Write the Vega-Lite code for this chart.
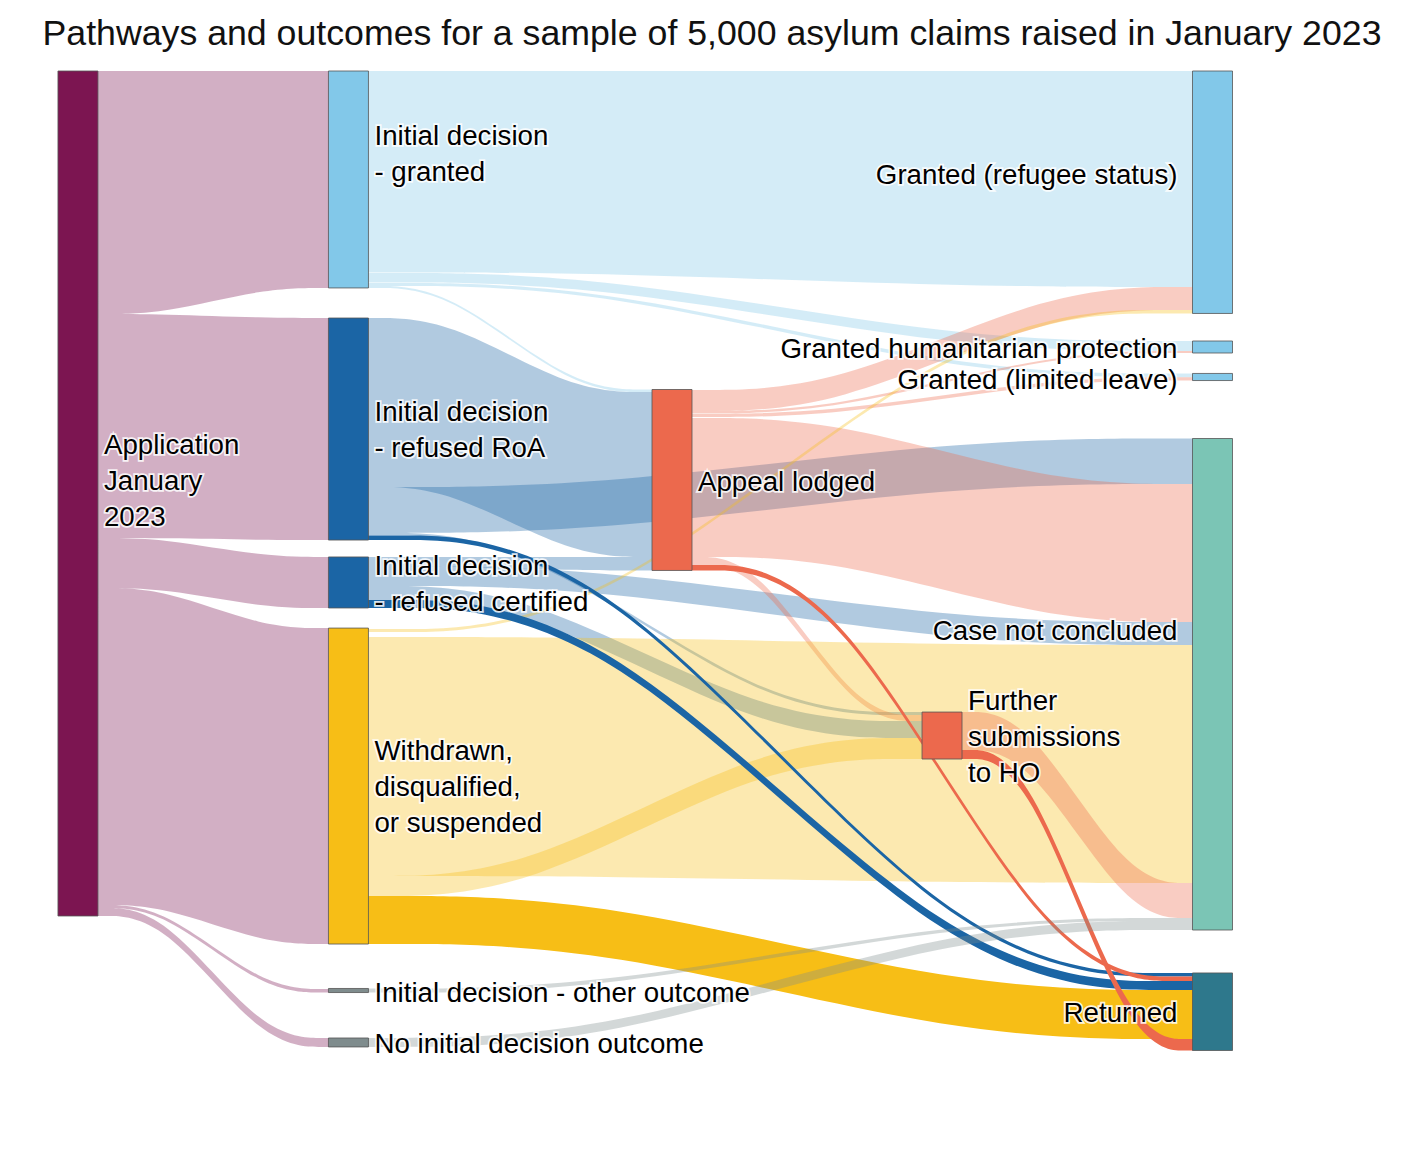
{
  "$schema": "https://vega.github.io/schema/vega-lite/v6.json",
  "width": 1174,
  "height": 980,
  "autosize": {"type": "none"},
  "padding": {"left": 58, "top": 71, "right": 176, "bottom": 108},
  "background": "white",
  "title": {
    "text": "Pathways and outcomes for a sample of 5,000 asylum claims raised in January 2023",
    "fontSize": 35.7,
    "font": "Liberation Sans",
    "fontWeight": "normal",
    "color": "#111111",
    "anchor": "middle",
    "dx": 67,
    "offset": 18
  },
  "config": {"view": {"stroke": null}, "font": "Liberation Sans"},
  "datasets": {
    "spans": [
      {"span": "A", "x": [0.0341, 0.0892, 0.1757, 0.2308]},
      {"span": "B", "x": [0.2641, 0.4609, 0.7700, 0.9668]},
      {"span": "C", "x": [0.2641, 0.3318, 0.4383, 0.5060]},
      {"span": "D", "x": [0.2641, 0.3962, 0.6038, 0.7359]},
      {"span": "E", "x": [0.5400, 0.6595, 0.8473, 0.9668]},
      {"span": "F", "x": [0.5400, 0.5949, 0.6810, 0.7359]},
      {"span": "G", "x": [0.7700, 0.8251, 0.9117, 0.9668]}
    ],
    "links": [
      {"id": 1, "s": "APP", "t": "IG", "span": "A", "top": [0, 0, 0, 0], "bot": [1438, 1438, 1284, 1284]},
      {"id": 2, "s": "APP", "t": "IR", "span": "A", "top": [1438, 1438, 1462, 1462], "bot": [2764, 2764, 2776, 2776]},
      {"id": 3, "s": "APP", "t": "IC", "span": "A", "top": [2764, 2764, 2876, 2876], "bot": [3060, 3060, 3178, 3178]},
      {"id": 4, "s": "APP", "t": "W", "span": "A", "top": [3060, 3060, 3297, 3297], "bot": [4936, 4936, 5167, 5167]},
      {"id": 5, "s": "APP", "t": "IO", "span": "A", "top": [4936, 4936, 5433, 5433], "bot": [4954, 4954, 5454, 5454]},
      {"id": 6, "s": "APP", "t": "NI", "span": "A", "top": [4954, 4954, 5723, 5723], "bot": [5001, 5001, 5776, 5776]},
      {"id": 7, "s": "IG", "t": "GR", "span": "B", "top": [0, 0, 0, 0], "bot": [1192, 1192, 1278, 1278]},
      {"id": 8, "s": "IG", "t": "HP", "span": "B", "top": [1196, 1196, 1598, 1598], "bot": [1252, 1252, 1657, 1657]},
      {"id": 9, "s": "IG", "t": "GL", "span": "B", "top": [1254, 1254, 1790, 1790], "bot": [1272, 1272, 1812, 1812]},
      {"id": 10, "s": "IG", "t": "AP", "span": "C", "top": [1273, 1273, 1885, 1885], "bot": [1284, 1284, 1900, 1900]},
      {"id": 11, "s": "IR", "t": "AP", "span": "C", "top": [1462, 1462, 1900, 1900], "bot": [2462, 2462, 2876, 2876]},
      {"id": 12, "s": "IR", "t": "CN", "span": "B", "top": [2462, 2462, 2175, 2175], "bot": [2734, 2734, 2444, 2444]},
      {"id": 13, "s": "IR", "t": "FS", "span": "D", "top": [2734, 2734, 3794, 3794], "bot": [2749, 2749, 3812, 3812]},
      {"id": 14, "s": "IR", "t": "RT", "span": "B", "top": [2749, 2749, 5338, 5338], "bot": [2776, 2776, 5359, 5359]},
      {"id": 15, "s": "IC", "t": "AP", "span": "C", "top": [2876, 2876, 2876, 2876], "bot": [2930, 2930, 2956, 2956]},
      {"id": 16, "s": "IC", "t": "CN", "span": "B", "top": [2930, 2930, 3261, 3261], "bot": [3048, 3048, 3397, 3397]},
      {"id": 17, "s": "IC", "t": "FS", "span": "D", "top": [3048, 3048, 3847, 3847], "bot": [3131, 3131, 3948, 3948]},
      {"id": 18, "s": "IC", "t": "RT", "span": "B", "top": [3131, 3131, 5386, 5386], "bot": [3178, 3178, 5439, 5439]},
      {"id": 19, "s": "AP", "t": "GR", "span": "E", "top": [1888, 1888, 1278, 1278], "bot": [2012, 2012, 1415, 1415]},
      {"id": 20, "s": "AP", "t": "HP", "span": "E", "top": [2012, 2012, 1657, 1657], "bot": [2026, 2026, 1669, 1669]},
      {"id": 21, "s": "AP", "t": "GL", "span": "E", "top": [2028, 2028, 1812, 1812], "bot": [2048, 2048, 1832, 1832]},
      {"id": 22, "s": "AP", "t": "CN", "span": "E", "top": [2054, 2054, 2444, 2444], "bot": [2876, 2876, 3261, 3261]},
      {"id": 23, "s": "AP", "t": "FS", "span": "F", "top": [2876, 2876, 3812, 3812], "bot": [2924, 2924, 3847, 3847]},
      {"id": 24, "s": "AP", "t": "RT", "span": "E", "top": [2924, 2924, 5359, 5359], "bot": [2956, 2956, 5386, 5386]},
      {"id": 25, "s": "W", "t": "GR", "span": "B", "top": [3303, 3303, 1415, 1415], "bot": [3320, 3320, 1435, 1435]},
      {"id": 26, "s": "W", "t": "CN", "span": "B", "top": [3350, 3350, 3397, 3397], "bot": [4764, 4764, 4806, 4806]},
      {"id": 27, "s": "W", "t": "FS", "span": "D", "top": [4764, 4764, 3948, 3948], "bot": [4883, 4883, 4072, 4072]},
      {"id": 28, "s": "W", "t": "RT", "span": "B", "top": [4883, 4883, 5439, 5439], "bot": [5167, 5167, 5729, 5729]},
      {"id": 29, "s": "FS", "t": "CN", "span": "G", "top": [3794, 3794, 4806, 4806], "bot": [4019, 4019, 5013, 5013]},
      {"id": 30, "s": "FS", "t": "RT", "span": "G", "top": [4019, 4019, 5729, 5729], "bot": [4072, 4072, 5797, 5797]},
      {"id": 31, "s": "IO", "t": "CN", "span": "B", "top": [5430, 5430, 5013, 5013], "bot": [5454, 5454, 5031, 5031]},
      {"id": 32, "s": "NI", "t": "CN", "span": "B", "top": [5723, 5723, 5031, 5031], "bot": [5776, 5776, 5084, 5084]}
    ],
    "nodes": [
      {"id": "APP", "x": 0.0170, "y0": 0, "y1": 5001, "label": "Application\nJanuary\n2023", "ly": 2220, "side": "R"},
      {"id": "IG", "x": 0.2474, "y0": 0, "y1": 1284, "label": "Initial decision\n- granted", "ly": 391, "side": "R"},
      {"id": "IR", "x": 0.2474, "y0": 1462, "y1": 2776, "label": "Initial decision\n- refused RoA", "ly": 2024, "side": "R"},
      {"id": "IC", "x": 0.2474, "y0": 2876, "y1": 3178, "label": "Initial decision\n- refused certified", "ly": 2936, "side": "R"},
      {"id": "W", "x": 0.2474, "y0": 3297, "y1": 5167, "label": "Withdrawn,\ndisqualified,\nor suspended", "ly": 4031, "side": "R"},
      {"id": "IO", "x": 0.2474, "y0": 5430, "y1": 5454, "label": "Initial decision - other outcome", "ly": 5463, "side": "R"},
      {"id": "NI", "x": 0.2474, "y0": 5723, "y1": 5776, "label": "No initial decision outcome", "ly": 5765, "side": "R"},
      {"id": "AP", "x": 0.5230, "y0": 1885, "y1": 2956, "label": "Appeal lodged", "ly": 2439, "side": "R"},
      {"id": "FS", "x": 0.7530, "y0": 3794, "y1": 4072, "label": "Further\nsubmissions\nto HO", "ly": 3735, "side": "R"},
      {"id": "GR", "x": 0.9834, "y0": 0, "y1": 1435, "label": "Granted (refugee status)", "ly": 622, "side": "L"},
      {"id": "HP", "x": 0.9834, "y0": 1598, "y1": 1669, "label": "Granted humanitarian protection", "ly": 1651, "side": "L"},
      {"id": "GL", "x": 0.9834, "y0": 1790, "y1": 1832, "label": "Granted (limited leave)", "ly": 1835, "side": "L"},
      {"id": "CN", "x": 0.9834, "y0": 2175, "y1": 5084, "label": "Case not concluded", "ly": 3320, "side": "L"},
      {"id": "RT", "x": 0.9834, "y0": 5338, "y1": 5797, "label": "Returned", "ly": 5581, "side": "L"}
    ]
  },
  "layer": [
    {
      "data": {"name": "links"},
      "transform": [
        {"filter": "datum.t !== 'RT' && datum.s !== 'IO' && datum.s !== 'NI'"},
        {"lookup": "span", "from": {"data": {"name": "spans"}, "key": "span", "fields": ["x"]}},
        {"flatten": ["x", "top", "bot"]}
      ],
      "mark": {"type": "area", "interpolate": "basis", "opacity": 0.34},
      "encoding": {
        "x": {"field": "x", "type": "quantitative", "scale": {"domain": [0, 1], "nice": false, "zero": false, "padding": 0}, "axis": null},
        "y": {"field": "top", "type": "quantitative", "stack": null, "scale": {"domain": [0, 5800], "reverse": true, "nice": false, "zero": false, "padding": 0}, "axis": null},
        "y2": {"field": "bot"},
        "detail": {"field": "id", "type": "nominal"},
        "color": {"field": "s", "type": "nominal", "legend": null,
          "scale": {"domain": ["APP", "IG", "IR", "IC", "W", "IO", "NI", "AP", "FS", "GR", "HP", "GL", "CN", "RT"],
                    "range": ["#7c1551", "#82c8e9", "#1b65a5", "#1b65a5", "#f7be16", "#7f8c8d", "#7f8c8d", "#ec694d", "#ec694d", "#82c8e9", "#82c8e9", "#82c8e9", "#7bc5b5", "#2e788c"]}}
      }
    },
    {
      "data": {"name": "links"},
      "transform": [
        {"filter": "datum.t === 'RT'"},
        {"lookup": "span", "from": {"data": {"name": "spans"}, "key": "span", "fields": ["x"]}},
        {"flatten": ["x", "top", "bot"]}
      ],
      "mark": {"type": "area", "interpolate": "basis", "opacity": 1},
      "encoding": {
        "x": {"field": "x", "type": "quantitative", "scale": {"domain": [0, 1], "nice": false, "zero": false, "padding": 0}, "axis": null},
        "y": {"field": "top", "type": "quantitative", "stack": null, "scale": {"domain": [0, 5800], "reverse": true, "nice": false, "zero": false, "padding": 0}, "axis": null},
        "y2": {"field": "bot"},
        "detail": {"field": "id", "type": "nominal"},
        "color": {"field": "s", "type": "nominal", "legend": null}
      }
    },
    {
      "data": {"name": "links"},
      "transform": [
        {"filter": "datum.s === 'IO' || datum.s === 'NI'"},
        {"lookup": "span", "from": {"data": {"name": "spans"}, "key": "span", "fields": ["x"]}},
        {"flatten": ["x", "top", "bot"]}
      ],
      "mark": {"type": "area", "interpolate": "basis", "opacity": 0.34},
      "encoding": {
        "x": {"field": "x", "type": "quantitative", "scale": {"domain": [0, 1], "nice": false, "zero": false, "padding": 0}, "axis": null},
        "y": {"field": "top", "type": "quantitative", "stack": null, "scale": {"domain": [0, 5800], "reverse": true, "nice": false, "zero": false, "padding": 0}, "axis": null},
        "y2": {"field": "bot"},
        "detail": {"field": "id", "type": "nominal"},
        "color": {"field": "s", "type": "nominal", "legend": null}
      }
    },
    {
      "data": {"name": "nodes"},
      "mark": {"type": "bar", "width": 40, "stroke": "#555555", "strokeWidth": 1, "strokeOpacity": 0.8, "opacity": 1},
      "encoding": {
        "x": {"field": "x", "type": "quantitative", "scale": {"domain": [0, 1], "nice": false, "zero": false, "padding": 0}, "axis": null},
        "y": {"field": "y0", "type": "quantitative", "scale": {"domain": [0, 5800], "reverse": true, "nice": false, "zero": false, "padding": 0}, "axis": null},
        "y2": {"field": "y1"},
        "color": {"field": "id", "type": "nominal", "legend": null}
      }
    },
    {
      "data": {"name": "nodes"},
      "transform": [{"filter": "datum.side === 'R'"}],
      "mark": {"type": "text", "align": "left", "baseline": "middle", "dx": 26, "fontSize": 27.7, "lineHeight": 36, "lineBreak": "\n", "font": "Liberation Sans", "fill": "white", "stroke": "white", "strokeWidth": 3.5, "strokeOpacity": 0.85},
      "encoding": {
        "x": {"field": "x", "type": "quantitative", "axis": null},
        "y": {"field": "ly", "type": "quantitative", "axis": null},
        "text": {"field": "label"}
      }
    },
    {
      "data": {"name": "nodes"},
      "transform": [{"filter": "datum.side === 'R'"}],
      "mark": {"type": "text", "align": "left", "baseline": "middle", "dx": 26, "fontSize": 27.7, "lineHeight": 36, "lineBreak": "\n", "font": "Liberation Sans", "fill": "#000000"},
      "encoding": {
        "x": {"field": "x", "type": "quantitative", "axis": null},
        "y": {"field": "ly", "type": "quantitative", "axis": null},
        "text": {"field": "label"}
      }
    },
    {
      "data": {"name": "nodes"},
      "transform": [{"filter": "datum.side === 'L'"}],
      "mark": {"type": "text", "align": "right", "baseline": "middle", "dx": -35, "fontSize": 27.7, "lineHeight": 36, "lineBreak": "\n", "font": "Liberation Sans", "fill": "white", "stroke": "white", "strokeWidth": 3.5, "strokeOpacity": 0.85},
      "encoding": {
        "x": {"field": "x", "type": "quantitative", "axis": null},
        "y": {"field": "ly", "type": "quantitative", "axis": null},
        "text": {"field": "label"}
      }
    },
    {
      "data": {"name": "nodes"},
      "transform": [{"filter": "datum.side === 'L'"}],
      "mark": {"type": "text", "align": "right", "baseline": "middle", "dx": -35, "fontSize": 27.7, "lineHeight": 36, "lineBreak": "\n", "font": "Liberation Sans", "fill": "#000000"},
      "encoding": {
        "x": {"field": "x", "type": "quantitative", "axis": null},
        "y": {"field": "ly", "type": "quantitative", "axis": null},
        "text": {"field": "label"}
      }
    }
  ]
}
